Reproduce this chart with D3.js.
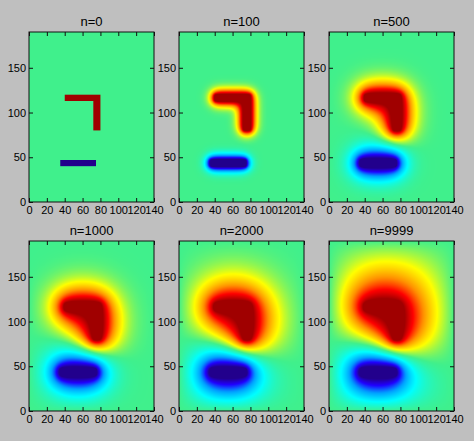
<!DOCTYPE html><html><head><meta charset="utf-8">
<script src="https://cdn.jsdelivr.net/npm/d3@7"></script>
<style>body{margin:0;background:#bfbfbf}svg{display:block}</style></head><body>
<script>
// Data
const steps = [0, 100, 500, 1000, 2000, 9999];
const gridW = 140, gridH = 190;
// heat sources [x0,x1,y0,y1,value]
const hotSources = [[40, 80, 113, 120, 1], [72, 80, 80, 120, 1]];
const coldSources = [[35, 75, 40, 47, -1]];
const xTicks = [0, 20, 40, 60, 80, 100, 120, 140];
const yTicks = [0, 50, 100, 150];
const colorStops = ["#22008c", "#2000ff", "#00a0ff", "#00ffff", "#40f08c", "#ffff00", "#ff9000", "#ff0000", "#a00000"];

const W = 474, H = 441;
const svg = d3.select("body").append("svg").attr("width", W).attr("height", H);
const panelX = [29, 179, 329], panelY = [32, 241], pw = 125, ph = 170;

// simulation
const srcs = hotSources.concat(coldSources);
const N = gridW * gridH;
let u = new Float32Array(N), v = new Float32Array(N);
const fixed = new Float32Array(N), isF = new Uint8Array(N);
srcs.forEach(([x0, x1, y0, y1, val]) => {
  for (let y = y0; y < y1; y++) for (let x = x0; x < x1; x++) { const i = y * gridW + x; isF[i] = 1; fixed[i] = val; u[i] = val; }
});
const alpha = 0.24;
const snaps = {};
for (let n = 0; n <= d3.max(steps); n++) {
  if (steps.includes(n)) snaps[n] = Float32Array.from(u);
  for (let y = 0; y < gridH; y++) for (let x = 0; x < gridW; x++) {
    const i = y * gridW + x;
    if (isF[i]) { v[i] = fixed[i]; continue; }
    const l = x > 0 ? u[i - 1] : 0, r = x < gridW - 1 ? u[i + 1] : 0;
    const d = y > 0 ? u[i - gridW] : 0, t = y < gridH - 1 ? u[i + gridW] : 0;
    v[i] = u[i] + alpha * (l + r + d + t - 4 * u[i]);
  }
  [u, v] = [v, u];
}

const cmap = d3.scaleLinear().domain(d3.range(colorStops.length).map(i => -0.86 + 1.72 * i / (colorStops.length - 1)))
  .range(colorStops).clamp(true);

steps.forEach((n, k) => {
  const px = panelX[k % 3], py = panelY[Math.floor(k / 3)];
  const xs = d3.scaleLinear().domain([0, gridW]).range([px, px + pw]);
  const ys = d3.scaleLinear().domain([0, gridH]).range([py + ph, py]);
  const cv = document.createElement("canvas"); cv.width = gridW; cv.height = gridH;
  const ctx = cv.getContext("2d"); const img = ctx.createImageData(gridW, gridH);
  const s = snaps[n];
  for (let y = 0; y < gridH; y++) for (let x = 0; x < gridW; x++) {
    const col = d3.rgb(cmap(s[y * gridW + x]));
    const j = ((gridH - 1 - y) * gridW + x) * 4;
    img.data[j] = col.r; img.data[j + 1] = col.g; img.data[j + 2] = col.b; img.data[j + 3] = 255;
  }
  ctx.putImageData(img, 0, 0);
  svg.append("image").attr("href", cv.toDataURL()).attr("x", xs(0)).attr("y", ys(gridH))
    .attr("width", pw).attr("height", ph).attr("preserveAspectRatio", "none");
  const g = svg.append("g").style("font-family", "Liberation Sans, Arial, sans-serif").style("font-size", "11px");
  const ax = g.append("g").attr("transform", `translate(0,${py + ph})`).call(d3.axisBottom(xs).tickValues(xTicks).tickSize(-4).tickPadding(4).tickFormat(d3.format("d")));
  const axT = g.append("g").attr("transform", `translate(0,${py})`).call(d3.axisTop(xs).tickValues(xTicks).tickSize(-4).tickFormat(""));
  const ay = g.append("g").attr("transform", `translate(${px},0)`).call(d3.axisLeft(ys).tickValues(yTicks).tickSize(-4).tickPadding(3));
  const ayR = g.append("g").attr("transform", `translate(${px + pw},0)`).call(d3.axisRight(ys).tickValues(yTicks).tickSize(-4).tickFormat(""));
  [ax, axT, ay, ayR].forEach(a => { a.selectAll("path,line").attr("stroke", "#111"); a.selectAll("text").attr("fill", "#000").style("font-size", "11px"); a.select(".domain").remove(); });
  g.append("rect").attr("x", px).attr("y", py).attr("width", pw).attr("height", ph).attr("fill", "none").attr("stroke", "#111").attr("stroke-width", 1);
  g.append("text").attr("x", px + pw / 2).attr("y", py - 6).attr("text-anchor", "middle").style("font-size", "13px").text("n=" + n);
});
</script></body></html>
